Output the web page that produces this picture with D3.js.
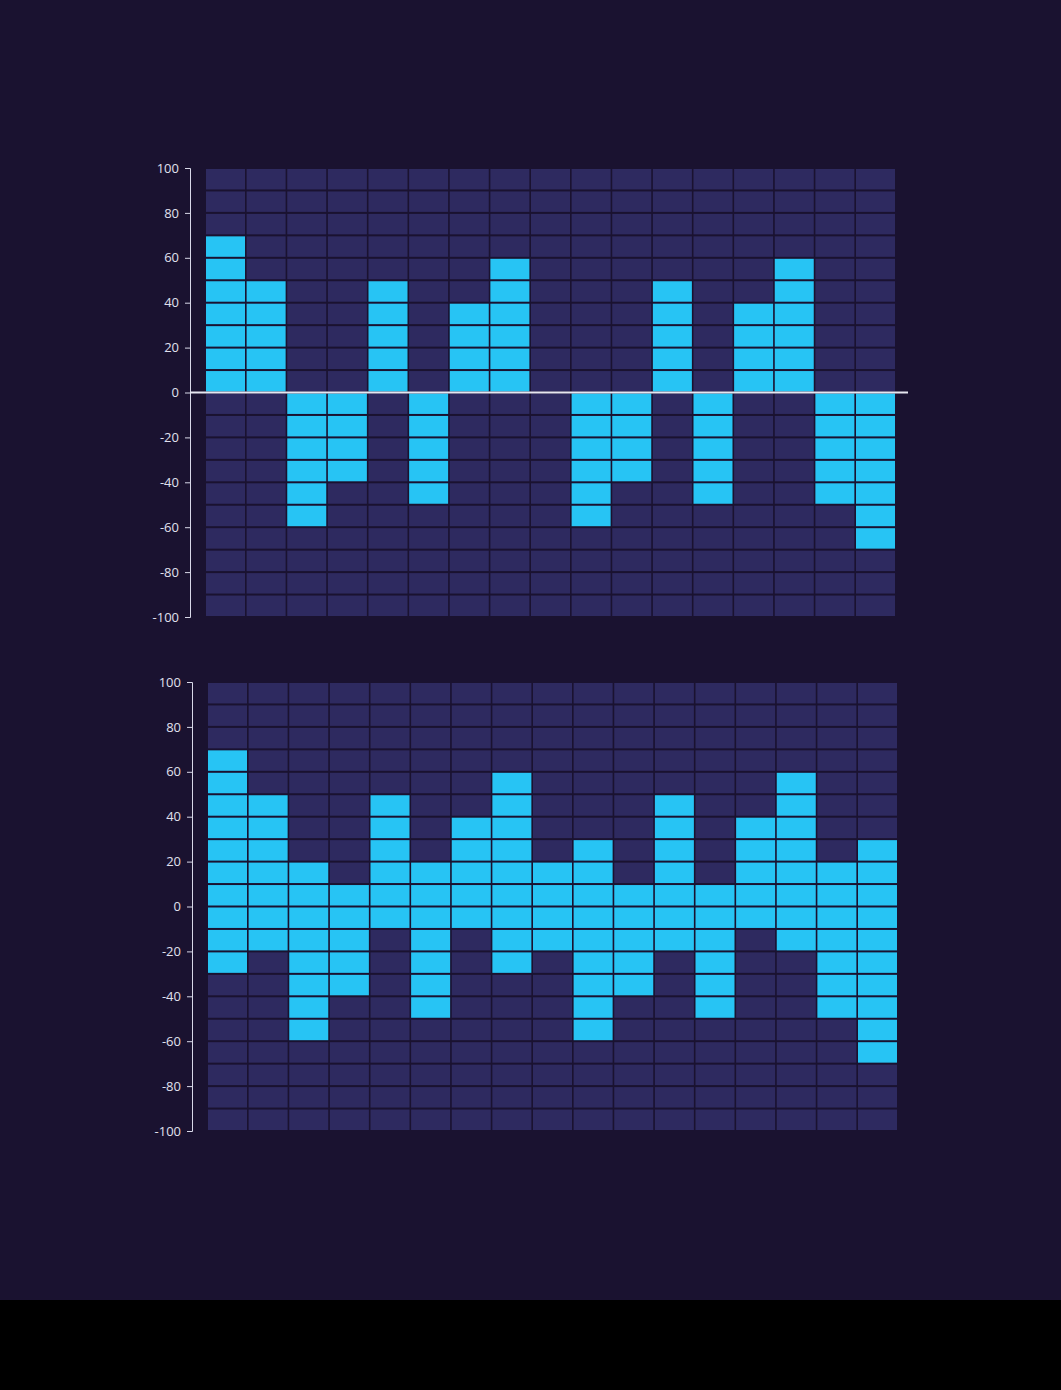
<!DOCTYPE html>
<html lang="en">
<head>
<meta charset="UTF-8">
<title>Segmented bar charts</title>
<style>
  html, body { margin: 0; padding: 0; background: #1a1230; }
  svg { display: block; }
</style>
</head>
<body>
<svg id="chart" width="1061" height="1390"></svg>
<script src="https://d3js.org/d3.v7.min.js"></script>
<script>
// data
const columns = d3.range(1, 18);
const topValues = [70, 50, -60, -40, 50, -50, 40, 60, 0, -60, -40, 50, -50, 40, 60, -50, -70];
const bottomLow  = [-30, -20, -60, -40, -10, -50, -10, -30, -20, -60, -40, -20, -50, -10, -20, -50, -70];
const bottomHigh = [70, 50, 20, 10, 50, 20, 40, 60, 20, 30, 10, 50, 10, 40, 60, 20, 30];
const yTicks = [100, 80, 60, 40, 20, 0, -20, -40, -60, -80, -100];

const svg = d3.select("#chart");
svg.append("rect").attr("width", 1061).attr("height", 1390).attr("fill", "#1a1230");
svg.append("rect").attr("y", 1300).attr("width", 1061).attr("height", 90).attr("fill", "#000");

const steps = d3.range(-100, 100, 10); // bottom of each cell

function drawPanel(top, bottom, x0, x1, ranges, zeroLine) {
  const y = d3.scaleLinear().domain([-100, 100]).range([bottom, top]);
  const x = d3.scaleBand().domain(columns).range([x0, x1]).paddingInner(0.04);
  const g = svg.append("g");

  columns.forEach((c, i) => {
    const [lo, hi] = ranges[i];
    g.selectAll(null).data(steps).enter().append("rect")
      .attr("x", x(c))
      .attr("y", d => y(d + 10) + 1)
      .attr("width", x.bandwidth())
      .attr("height", d => y(d) - y(d + 10) - 2)
      .attr("fill", d => (d >= lo && d < hi) ? "#27c4f4" : "#2e2a60");
  });

  const axis = d3.axisLeft(y).tickValues(yTicks).tickFormat(d => String(d))
    .tickSize(5).tickPadding(6);
  const ag = g.append("g").attr("transform", `translate(${x0 - 16},0)`).call(axis);
  ag.select(".domain").attr("stroke", "#d8d8e8");
  ag.selectAll(".tick line").attr("stroke", "#d8d8e8");
  ag.selectAll(".tick text").attr("fill", "#e0e0ee")
    .style("font-family", "'Open Sans', sans-serif").style("font-size", "13px");

  if (zeroLine) {
    g.append("line").attr("x1", x0 - 16).attr("x2", x1 + 13)
      .attr("y1", y(0)).attr("y2", y(0))
      .attr("stroke", "#e6e6f0").attr("stroke-width", 2);
  }
}

drawPanel(168, 617, 206, 895,
  topValues.map(v => v >= 0 ? [0, v] : [v, 0]), true);
drawPanel(682, 1131, 208, 897,
  bottomLow.map((lo, i) => [lo, bottomHigh[i]]), false);
</script>
</body>
</html>
